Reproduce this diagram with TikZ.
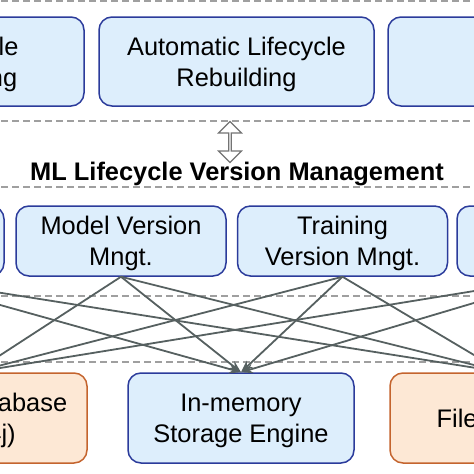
\documentclass[tikz,border=0pt]{standalone}
\usepackage{fontspec}
\setmainfont{Liberation Sans}
\usetikzlibrary{arrows.meta,shapes.arrows}
\definecolor{boxblue}{HTML}{2B3B9B}
\definecolor{fillblue}{HTML}{DDEEFC}
\definecolor{boxorange}{HTML}{C4642E}
\definecolor{fillorange}{HTML}{FDE8D5}
\definecolor{linkgray}{HTML}{566060}
\tikzstyle{layerbox} = [draw, rounded corners=13pt, line width=1.5pt, inner sep=0pt, align=center, text depth=0pt]
\tikzstyle{bluebox} = [layerbox, draw=boxblue, fill=fillblue]
\tikzstyle{orangebox} = [layerbox, draw=boxorange, fill=fillorange]
\tikzstyle{layerline} = [dash pattern=on 7pt off 4pt, line width=1.2pt, gray!75]
\tikzstyle{link} = [-{Stealth[length=12pt,width=9pt]}, line width=1.8pt, linkgray]

\begin{document}
\begin{tikzpicture}[x=1pt,y=-1pt,font=\fontsize{25.4}{31}\selectfont]
	\useasboundingbox (0,0) rectangle (474,474);
	% layer separators
	\foreach \y in {1,121,187,296,362}
		\draw[layerline] (-10,\y) -- (484,\y);
	% application layer
	\node[bluebox, minimum width=230pt, minimum height=89pt] (tracking) at (-31,61.5) {Lifecycle\\Tracking};
	\node[bluebox, minimum width=275pt, minimum height=89pt] (rebuild) at (236.5,61.5) {Automatic Lifecycle\\Rebuilding};
	\node[bluebox, minimum width=275pt, minimum height=89pt] (topright) at (525.5,61.5) {};
	% version management layer
	\node[double arrow, draw=gray!90!black, fill=white, line width=1.2pt, rotate=90, minimum height=41pt, minimum width=23pt, double arrow head extend=5pt, inner sep=0pt] (sync) at (230,142) {};
	\node[anchor=base] (title) at (237,180) {\bfseries ML Lifecycle Version Management};
	\node[bluebox, minimum width=210pt, minimum height=70pt] (mgleft) at (-101,241) {};
	\node[bluebox, minimum width=210pt, minimum height=70pt] (model) at (121,241) {Model Version\\Mngt.};
	\node[bluebox, minimum width=210pt, minimum height=70pt] (training) at (342.5,241) {Training\\Version Mngt.};
	\node[bluebox, minimum width=210pt, minimum height=70pt] (mgright) at (562,241) {};
	% storage layer
	\node[orangebox, minimum width=226pt, minimum height=90pt] (graphdb) at (-26,418) {Graph Database\\(Neo4j)};
	\node[bluebox, minimum width=226pt, minimum height=90pt] (inmemory) at (241,418) {In-memory\\Storage Engine};
	\node[orangebox, minimum width=226pt, minimum height=90pt] (filesys) at (503,418) {File System};
	% links
	\foreach \s in {mgleft,model,training,mgright}
		\foreach \t in {graphdb,inmemory,filesys}
			\draw[link] (\s.south) -- (\t.north);
\end{tikzpicture}
\end{document}
